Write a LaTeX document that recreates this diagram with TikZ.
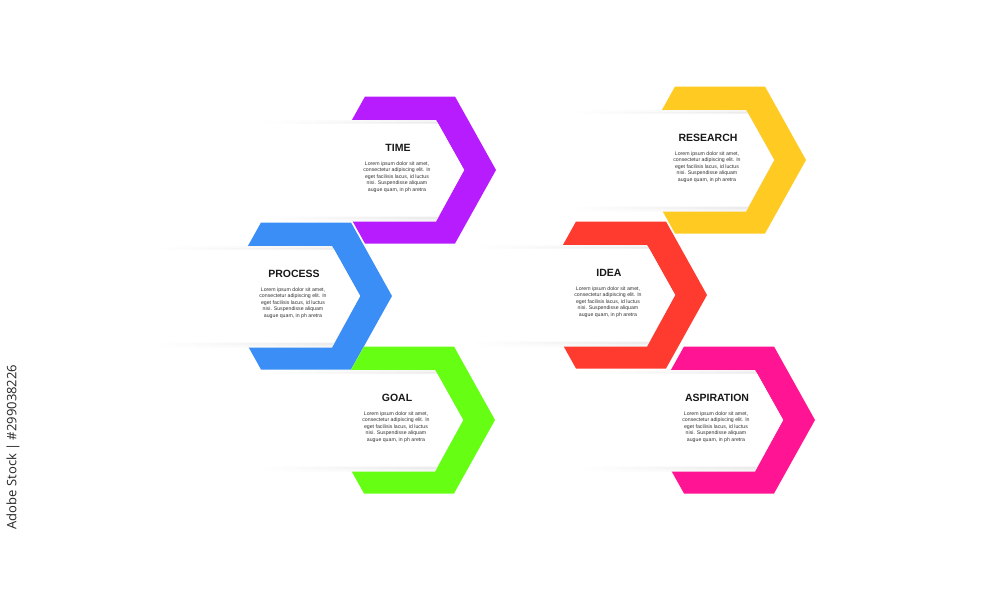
\documentclass[tikz,border=0pt]{standalone}
\usepackage{fontspec}
\setmainfont{Liberation Sans}
\newfontfamily\stockfont{Open Sans}
\definecolor{timecol}{HTML}{B71CFF}
\definecolor{processcol}{HTML}{3A8EF6}
\definecolor{goalcol}{HTML}{66FF14}
\definecolor{researchcol}{HTML}{FFCA22}
\definecolor{ideacol}{HTML}{FF3B30}
\definecolor{aspirationcol}{HTML}{FF1493}
\newcommand\loremtext{Lorem ipsum dolor sit amet,\\consectetur adipiscing elit. In\\eget facilisis lacus, id luctus\\nisi. Suspendisse aliquam\\augue quam, in ph aretra}
\tikzset{
  hextitle/.style = {font = \bfseries\fontsize{10.5}{12}\selectfont, text = black!90},
  hexbody/.style = {font = \fontsize{5.2}{6.6}\selectfont, align = center, text = black!80, inner sep = 0pt}
}
\begin{document}
\begin{tikzpicture}[x = 1pt, y = -1pt]
\useasboundingbox (0,0) rectangle (1000,600);
\foreach \cx/\cy/\col/\ttl/\nm in {410/170/timecol/TIME/time, 306/296/processcol/PROCESS/process, 409/420/goalcol/GOAL/goal, 720/160/researchcol/RESEARCH/research, 621/295/ideacol/IDEA/idea, 729/420/aspirationcol/ASPIRATION/aspiration}
{
\fill [\col] (\cx-86,\cy) -- (\cx-45,\cy-73.5) -- (\cx+45,\cy-73.5) -- (\cx+86,\cy) -- (\cx+45,\cy+73.5) -- (\cx-45,\cy+73.5) -- cycle;
\shade [left color = white, right color = black!5] (\cx-150,\cy-50) -- (\cx+26,\cy-50) -- (\cx+54,\cy) -- (\cx+26,\cy+51.5) -- (\cx-150,\cy+51.5) -- cycle;
\shade [left color = white, right color = black!9] (\cx-150,\cy-48) -- (\cx+27,\cy-48) -- (\cx+54,\cy) -- (\cx+27,\cy+49) -- (\cx-150,\cy+49) -- cycle;
\fill [white] (\cx-150,\cy-46.5) -- (\cx+28,\cy-46.5) -- (\cx+54,\cy) -- (\cx+28,\cy+46.5) -- (\cx-150,\cy+46.5) -- cycle;
\node [hextitle] (\nm-title) at (\cx-12,\cy-22) {\ttl};
\node [hexbody] (\nm-text) at (\cx-13,\cy+7) {\loremtext};
}
\node [rotate = 90, font = \stockfont\fontsize{13}{15}\selectfont, text = black!85] (stock) at (13,447) {Adobe Stock | \#299038226};
\end{tikzpicture}
\end{document}
